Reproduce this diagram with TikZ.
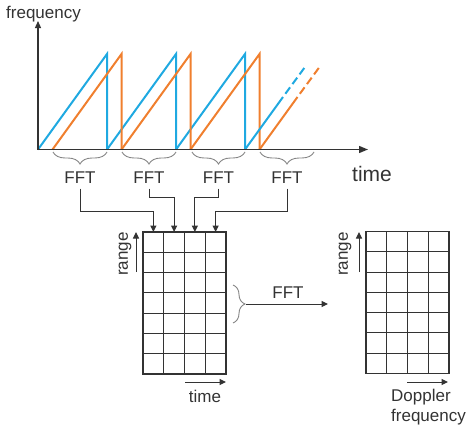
\documentclass[tikz,border=0pt]{standalone}
\usepackage{fontspec}
\setmainfont{Liberation Sans}
\usetikzlibrary{arrows.meta,decorations.pathreplacing,calc}
\definecolor{rblue}{HTML}{1FA9E1}
\definecolor{rorange}{HTML}{F07F2E}
\definecolor{ink}{HTML}{333333}
\definecolor{brgray}{HTML}{858585}
\begin{document}
\begin{tikzpicture}[x=1pt,y=-1pt,
  lbl/.style={font=\fontsize{17}{20}\selectfont, text=ink, inner sep=0pt},
  ax/.style={draw=ink, line width=1.3pt},
  arr/.style={draw=ink, line width=1pt, -{Triangle[length=6.5pt,width=6pt]}},
  ramp/.style={line width=2pt, line join=miter},
  brc/.style={draw=brgray, line width=0.9pt, decorate},
  gridbox/.style={draw=ink, line width=1.1pt, minimum width=83pt, minimum height=142pt, anchor=north west, inner sep=0pt, outer sep=0pt},
  gridl/.style={draw=ink, line width=1.1pt},
  fftl/.style={lbl, inner ysep=4.5pt}]
\useasboundingbox (0,0) rectangle (474,431);
% ramps
\foreach \k in {0,1,2}{
  \draw[ramp, rblue] (38+69*\k,149.5) -- (107+69*\k,54) -- (107+69*\k,149.5);
}
\foreach \k in {0,1,2}{
  \draw[ramp, rorange] (52.5+69*\k,149.5) -- (121.5+69*\k,54) -- (121.5+69*\k,149.5);
}
\draw[ramp, rblue] (245,149.5) -- (283,97);
\draw[ramp, rblue, dash pattern=on 8pt off 4pt, dash phase=8pt] (283,97) -- (305,67);
\draw[ramp, rorange] (259.5,149.5) -- (297.5,97);
\draw[ramp, rorange, dash pattern=on 8pt off 4pt, dash phase=8pt] (297.5,97) -- (319.5,67);
% axes
\coordinate (O) at (38,149.5);
\coordinate (Ytop) at (38,21);
\coordinate (Xend) at (368,149.5);
\draw[ax, -{Triangle[length=7pt,width=6pt]}] (O) -- (Ytop);
\draw[ax, -{Triangle[length=9pt,width=7pt]}] (O) -- (Xend);
\node[lbl, font=\fontsize{17}{20}\selectfont, anchor=base west] (flab) at (6,18) {frequency};
\node[lbl, font=\fontsize{21}{24}\selectfont, anchor=base west] (tlab) at (352,181) {time};
% braces
\foreach \a/\b in {53/107,122/176,192/245,260/314}{
  \draw[brc, decoration={brace,mirror,amplitude=12pt}] (\a,152) -- (\b,152);
}
\node[fftl] (fft1) at (80,178) {FFT};
\node[fftl] (fft2) at (149,178) {FFT};
\node[fftl] (fft3) at (218.5,178) {FFT};
\node[fftl] (fft4) at (287,178) {FFT};
% grid 1
\node[gridbox] (g1) at (143,232) {};
\foreach \i in {1,2,3}{
  \draw[gridl] ($(g1.north west)!\i/4!(g1.north east)$) -- ($(g1.south west)!\i/4!(g1.south east)$);
}
\foreach \j in {1,...,6}{
  \draw[gridl] ($(g1.north west)!\j/7!(g1.south west)$) -- ($(g1.north east)!\j/7!(g1.south east)$);
}
\coordinate (t1) at ($(g1.north west)!0.125!(g1.north east)$);
\coordinate (t2) at ($(g1.north west)!0.375!(g1.north east)$);
\coordinate (t3) at ($(g1.north west)!0.625!(g1.north east)$);
\coordinate (t4) at ($(g1.north west)!0.875!(g1.north east)$);
\draw[arr] (fft1.south) |- ($(t1)+(0,-21)$) -- (t1);
\draw[arr] (fft2.south) |- ($(t2)+(0,-35)$) -- (t2);
\draw[arr] (fft3.south) |- ($(t3)+(0,-35)$) -- (t3);
\draw[arr] (fft4.south) |- ($(t4)+(0,-21)$) -- (t4);
% range / time labels grid 1
\node[lbl, rotate=90] (r1) at (125,254) {range};
\coordinate (ra1) at (136,272);
\coordinate (rb1) at (136,232);
\draw[arr] (ra1) -- (rb1);
\coordinate (ta1) at (185,382);
\coordinate (tb1) at (226,382);
\draw[arr] (ta1) -- (tb1);
\node[lbl] (tlab2) at (205,396) {time};
% FFT across
\draw[brc, decoration={brace,amplitude=12pt}] (233,285) -- (233,323);
\coordinate (bt) at (246,304);
\coordinate (fe) at (328,304);
\draw[arr] (bt) -- (fe);
\node[lbl] (fftm) at (288,293) {FFT};
% grid 2
\node[gridbox] (g2) at (366,231.5) {};
\foreach \i in {1,2,3}{
  \draw[gridl] ($(g2.north west)!\i/4!(g2.north east)$) -- ($(g2.south west)!\i/4!(g2.south east)$);
}
\foreach \j in {1,...,6}{
  \draw[gridl] ($(g2.north west)!\j/7!(g2.south west)$) -- ($(g2.north east)!\j/7!(g2.south east)$);
}
\node[lbl, rotate=90] (r2) at (345,254) {range};
\coordinate (ra2) at (359,272);
\coordinate (rb2) at (359,232);
\draw[arr] (ra2) -- (rb2);
\coordinate (da) at (407,382);
\coordinate (db) at (448,382);
\draw[arr] (da) -- (db);
\node[lbl, align=left, anchor=north west] (dop) at (391,389) {Doppler\\frequency};
\end{tikzpicture}
\end{document}
